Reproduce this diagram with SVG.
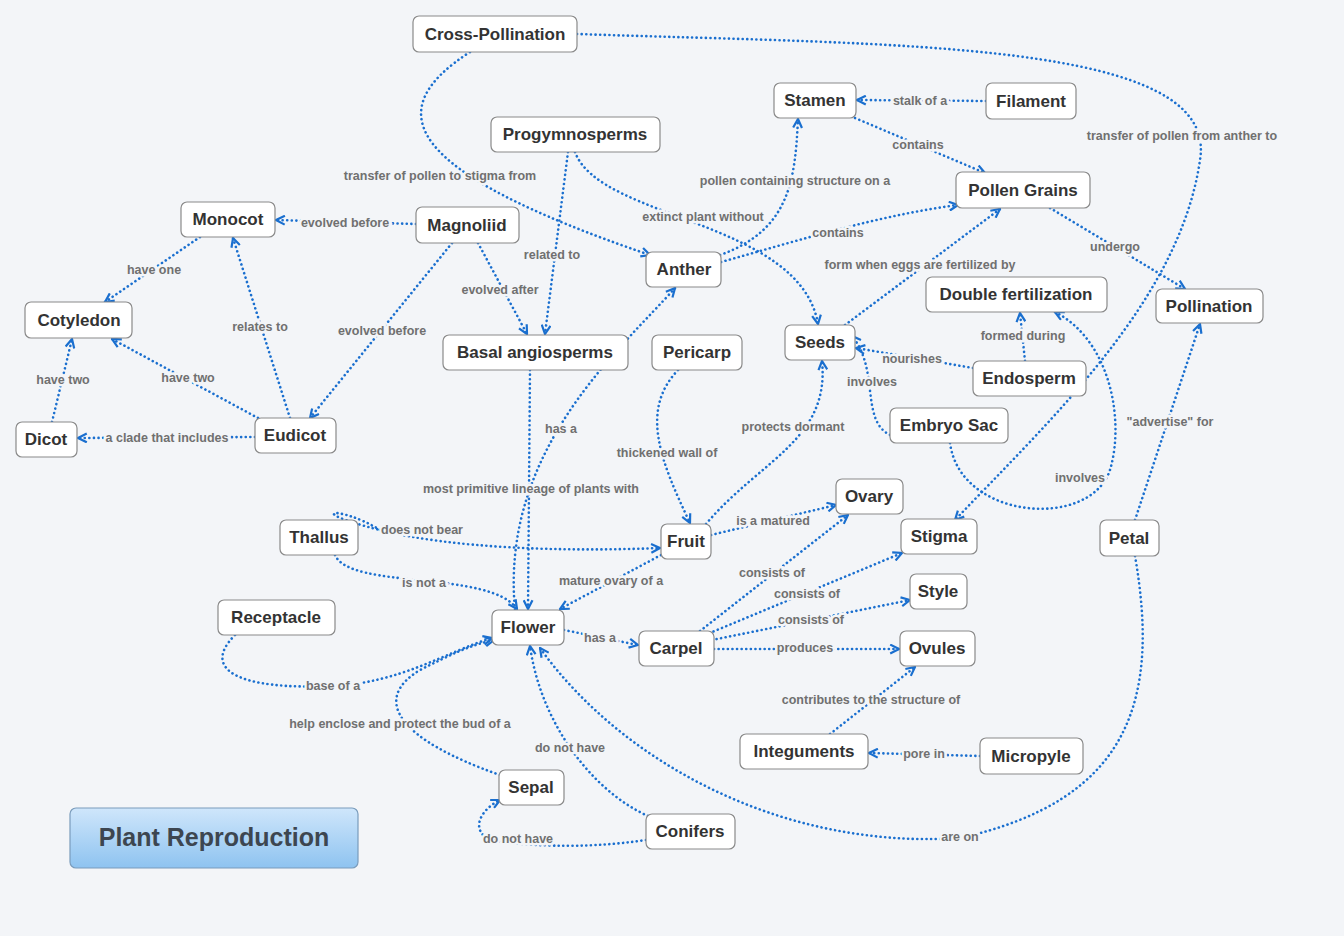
<svg xmlns="http://www.w3.org/2000/svg" width="1344" height="936" viewBox="0 0 1344 936">
<defs>
<marker id="a" viewBox="0 0 10 10" refX="9" refY="5" markerWidth="11" markerHeight="11" markerUnits="userSpaceOnUse" orient="auto"><path d="M1,1 L9,5 L1,9" fill="none" stroke="#1a6fcf" stroke-width="2"/></marker>
<linearGradient id="g" x1="0" y1="0" x2="0" y2="1"><stop offset="0" stop-color="#cfe6fb"/><stop offset="1" stop-color="#8ec3f0"/></linearGradient>
<style>
.n rect{fill:#fff;stroke:#8a8a8a;stroke-width:1.2}
.n text{font-family:"Liberation Sans",Arial,sans-serif;font-weight:bold;font-size:17px;fill:#333;text-anchor:middle}
#c path{fill:none;stroke:#1a6fcf;stroke-width:2.6;stroke-dasharray:0.1 4.5;stroke-linecap:round;marker-end:url(#a)}
.l text{font-family:"Liberation Sans",Arial,sans-serif;font-weight:bold;font-size:12.5px;fill:#707070;text-anchor:middle;paint-order:stroke;stroke:#f3f5f8;stroke-width:5}
</style>
</defs>
<rect width="1344" height="936" fill="#f3f5f8"/>
<g id="c">
<path d="M470,52 C380,110 400,170 650,255"/>
<path d="M577,34 C900,45 1220,40 1200,160 C1180,300 1050,420 955,520"/>
<path d="M986,101 L857,100"/>
<path d="M855,118 L985,173"/>
<path d="M720,255 C790,230 795,180 798,119"/>
<path d="M721,262 C800,240 880,215 958,205"/>
<path d="M575,152 C600,220 800,220 818,324"/>
<path d="M568,152 L545,334"/>
<path d="M1050,208 L1185,289"/>
<path d="M845,325 L1000,209"/>
<path d="M416,224 L276,220"/>
<path d="M478,243 L527,334"/>
<path d="M452,243 L310,418"/>
<path d="M200,237 L105,302"/>
<path d="M290,418 L233,238"/>
<path d="M258,418 L112,339"/>
<path d="M52,422 L72,339"/>
<path d="M255,437 L78,438"/>
<path d="M1025,361 L1020,313"/>
<path d="M973,368 L856,348"/>
<path d="M890,435 C860,420 880,370 852,336"/>
<path d="M950,443 C960,520 1090,530 1110,470 C1125,420 1110,340 1055,312"/>
<path d="M1135,520 L1200,324"/>
<path d="M678,370 C640,410 660,460 690,523"/>
<path d="M706,524 C760,460 830,440 822,361"/>
<path d="M530,370 L528,609"/>
<path d="M515,610 C500,450 620,350 675,288"/>
<path d="M711,535 L836,505"/>
<path d="M380,530 C340,505 300,510 380,530 C450,548 560,552 660,548"/>
<path d="M335,555 C350,590 490,570 517,609"/>
<path d="M661,555 L560,609"/>
<path d="M564,630 L638,645"/>
<path d="M700,631 L848,515"/>
<path d="M705,635 L902,553"/>
<path d="M712,640 L910,600"/>
<path d="M714,649 L899,649"/>
<path d="M830,734 L915,667"/>
<path d="M980,756 L869,753"/>
<path d="M235,635 C200,670 240,690 330,686 C400,684 450,650 492,638"/>
<path d="M500,775 C400,740 370,700 420,670 C450,655 470,645 494,640"/>
<path d="M648,816 C590,790 540,720 530,646"/>
<path d="M646,840 C580,850 520,845 490,840 C470,830 480,810 500,800"/>
<path d="M1135,556 C1160,700 1130,800 960,838 C780,850 620,760 540,648"/>
</g>
<g class="l">
<text x="440" y="180">transfer of pollen to stigma from</text>
<text x="1182" y="140">transfer of pollen from anther to</text>
<text x="920" y="105">stalk of a</text>
<text x="918" y="149">contains</text>
<text x="795" y="185">pollen containing structure on a</text>
<text x="838" y="237">contains</text>
<text x="703" y="221">extinct plant without</text>
<text x="552" y="259">related to</text>
<text x="1115" y="251">undergo</text>
<text x="920" y="269">form when eggs are fertilized by</text>
<text x="345" y="227">evolved before</text>
<text x="500" y="294">evolved after</text>
<text x="382" y="335">evolved before</text>
<text x="154" y="274">have one</text>
<text x="260" y="331">relates to</text>
<text x="188" y="382">have two</text>
<text x="63" y="384">have two</text>
<text x="167" y="442">a clade that includes</text>
<text x="1023" y="340">formed during</text>
<text x="912" y="363">nourishes</text>
<text x="872" y="386">involves</text>
<text x="1080" y="482">involves</text>
<text x="1170" y="426">"advertise" for</text>
<text x="667" y="457">thickened wall of</text>
<text x="793" y="431">protects dormant</text>
<text x="531" y="493">most primitive lineage of plants with</text>
<text x="561" y="433">has a</text>
<text x="773" y="525">is a matured</text>
<text x="422" y="534">does not bear</text>
<text x="424" y="587">is not a</text>
<text x="611" y="585">mature ovary of a</text>
<text x="600" y="642">has a</text>
<text x="772" y="577">consists of</text>
<text x="807" y="598">consists of</text>
<text x="811" y="624">consists of</text>
<text x="805" y="652">produces</text>
<text x="871" y="704">contributes to the structure of</text>
<text x="924" y="758">pore in</text>
<text x="333" y="690">base of a</text>
<text x="400" y="728">help enclose and protect the bud of a</text>
<text x="570" y="752">do not have</text>
<text x="518" y="843">do not have</text>
<text x="960" y="841">are on</text>
</g>
<g id="n-cross" class="n"><rect x="413" y="16" width="164" height="36" rx="6"/><text x="495" y="40">Cross-Pollination</text></g>
<g id="n-stamen" class="n"><rect x="774" y="83" width="82" height="35" rx="6"/><text x="815" y="106">Stamen</text></g>
<g id="n-filament" class="n"><rect x="986" y="83" width="90" height="36" rx="6"/><text x="1031" y="107">Filament</text></g>
<g id="n-progym" class="n"><rect x="491" y="117" width="169" height="35" rx="6"/><text x="575" y="140">Progymnosperms</text></g>
<g id="n-pollen" class="n"><rect x="956" y="172" width="134" height="36" rx="6"/><text x="1023" y="196">Pollen Grains</text></g>
<g id="n-monocot" class="n"><rect x="181" y="202" width="94" height="35" rx="6"/><text x="228" y="225">Monocot</text></g>
<g id="n-magnoliid" class="n"><rect x="416" y="207" width="103" height="36" rx="6"/><text x="467" y="231">Magnoliid</text></g>
<g id="n-anther" class="n"><rect x="646" y="252" width="75" height="35" rx="6"/><text x="684" y="275">Anther</text></g>
<g id="n-cotyledon" class="n"><rect x="25" y="302" width="107" height="36" rx="6"/><text x="79" y="326">Cotyledon</text></g>
<g id="n-double" class="n"><rect x="926" y="277" width="181" height="35" rx="6"/><text x="1016" y="300">Double fertilization</text></g>
<g id="n-pollination" class="n"><rect x="1156" y="289" width="107" height="34" rx="6"/><text x="1209" y="312">Pollination</text></g>
<g id="n-seeds" class="n"><rect x="785" y="325" width="70" height="35" rx="6"/><text x="820" y="348">Seeds</text></g>
<g id="n-basal" class="n"><rect x="443" y="335" width="185" height="35" rx="6"/><text x="535" y="358">Basal angiosperms</text></g>
<g id="n-pericarp" class="n"><rect x="652" y="335" width="90" height="35" rx="6"/><text x="697" y="358">Pericarp</text></g>
<g id="n-endosperm" class="n"><rect x="973" y="361" width="113" height="35" rx="6"/><text x="1029" y="384">Endosperm</text></g>
<g id="n-embryo" class="n"><rect x="890" y="408" width="118" height="35" rx="6"/><text x="949" y="431">Embryo Sac</text></g>
<g id="n-dicot" class="n"><rect x="16" y="422" width="61" height="35" rx="6"/><text x="46" y="445">Dicot</text></g>
<g id="n-eudicot" class="n"><rect x="255" y="418" width="81" height="35" rx="6"/><text x="295" y="441">Eudicot</text></g>
<g id="n-ovary" class="n"><rect x="836" y="479" width="67" height="35" rx="6"/><text x="869" y="502">Ovary</text></g>
<g id="n-thallus" class="n"><rect x="280" y="520" width="78" height="35" rx="6"/><text x="319" y="543">Thallus</text></g>
<g id="n-fruit" class="n"><rect x="661" y="524" width="50" height="35" rx="6"/><text x="686" y="547">Fruit</text></g>
<g id="n-stigma" class="n"><rect x="901" y="519" width="76" height="35" rx="6"/><text x="939" y="542">Stigma</text></g>
<g id="n-petal" class="n"><rect x="1100" y="520" width="59" height="36" rx="6"/><text x="1129" y="544">Petal</text></g>
<g id="n-style" class="n"><rect x="910" y="574" width="57" height="35" rx="6"/><text x="938" y="597">Style</text></g>
<g id="n-receptacle" class="n"><rect x="218" y="600" width="117" height="35" rx="6"/><text x="276" y="623">Receptacle</text></g>
<g id="n-flower" class="n"><rect x="492" y="610" width="72" height="35" rx="6"/><text x="528" y="633">Flower</text></g>
<g id="n-carpel" class="n"><rect x="639" y="631" width="75" height="35" rx="6"/><text x="676" y="654">Carpel</text></g>
<g id="n-ovules" class="n"><rect x="900" y="631" width="75" height="35" rx="6"/><text x="937" y="654">Ovules</text></g>
<g id="n-integuments" class="n"><rect x="740" y="734" width="128" height="35" rx="6"/><text x="804" y="757">Integuments</text></g>
<g id="n-micropyle" class="n"><rect x="980" y="738" width="103" height="36" rx="6"/><text x="1031" y="762">Micropyle</text></g>
<g id="n-sepal" class="n"><rect x="499" y="770" width="65" height="35" rx="6"/><text x="531" y="793">Sepal</text></g>
<g id="n-conifers" class="n"><rect x="646" y="814" width="89" height="35" rx="6"/><text x="690" y="837">Conifers</text></g>
<g id="n-title"><rect x="70" y="808" width="288" height="60" rx="6" fill="url(#g)" stroke="#7a9cbc" stroke-width="1.2"/><text x="214" y="846" font-family="Liberation Sans,Arial,sans-serif" font-weight="bold" font-size="25" fill="#3d4650" text-anchor="middle">Plant Reproduction</text></g>
</svg>
